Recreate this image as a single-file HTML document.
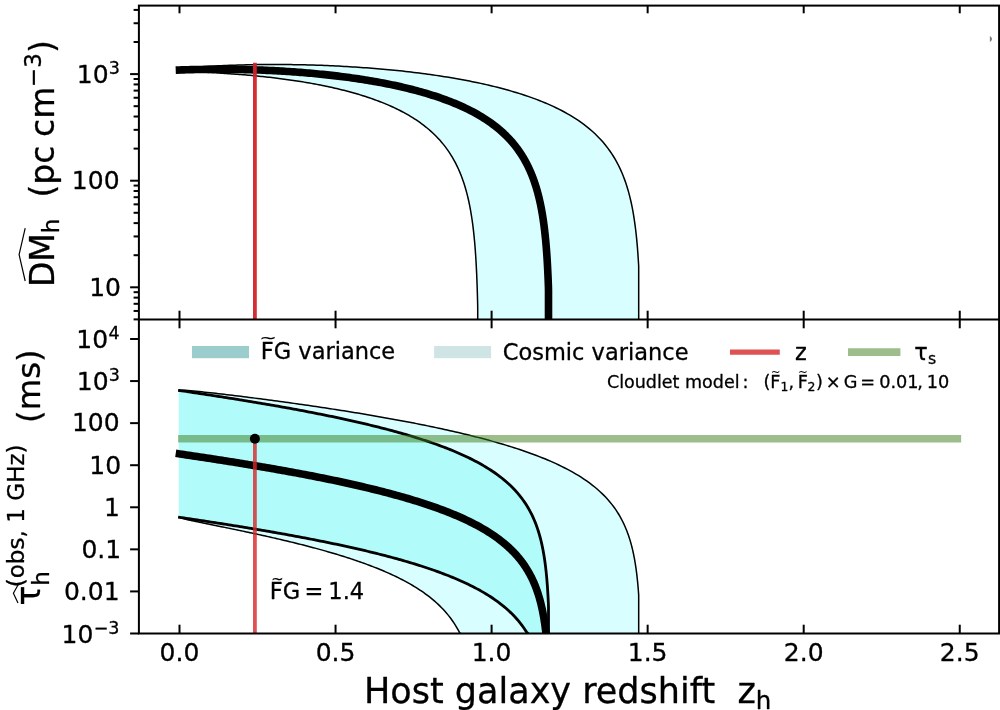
<!DOCTYPE html>
<html lang="en"><head><meta charset="utf-8"><title>Host galaxy redshift</title>
<style>html,body{margin:0;padding:0;background:#fff;}body{width:1000px;height:710px;overflow:hidden;position:relative;font-family:"DejaVu Sans","Liberation Sans",sans-serif;}</style></head>
<body>
<svg width="1000" height="710" viewBox="0 0 1000 710" style="display:block;position:absolute;left:0;top:0">
<rect width="1000" height="710" fill="#fff"/>
<defs><clipPath id="c1"><rect x="138.9" y="5.6" width="860.2" height="313.9"/></clipPath><clipPath id="c2"><rect x="138.9" y="319.5" width="860.2" height="314.0"/></clipPath></defs>
<g clip-path="url(#c1)">
<path d="M179.50,70.00 L182.29,69.04 L185.08,68.59 L187.87,68.23 L190.65,67.91 L193.44,67.63 L196.23,67.37 L199.02,67.13 L201.81,66.91 L204.60,66.71 L207.39,66.51 L210.18,66.33 L212.96,66.16 L215.75,66.00 L218.54,65.85 L221.33,65.71 L224.12,65.58 L226.91,65.45 L229.70,65.34 L232.49,65.23 L235.27,65.13 L238.06,65.04 L240.85,64.95 L243.64,64.88 L246.43,64.81 L249.22,64.74 L252.01,64.69 L254.80,64.64 L257.58,64.60 L260.37,64.56 L263.16,64.53 L265.95,64.51 L268.74,64.49 L271.53,64.48 L274.32,64.48 L277.11,64.48 L279.89,64.49 L282.68,64.51 L285.47,64.53 L288.26,64.55 L291.05,64.59 L293.84,64.63 L296.63,64.67 L299.42,64.73 L302.20,64.78 L304.99,64.85 L307.78,64.92 L310.57,65.00 L313.36,65.08 L316.15,65.17 L318.94,65.26 L321.73,65.36 L324.51,65.47 L327.30,65.58 L330.09,65.70 L332.88,65.83 L335.67,65.96 L338.46,66.10 L341.25,66.24 L344.03,66.39 L346.82,66.55 L349.61,66.71 L352.40,66.88 L355.19,67.06 L357.98,67.24 L360.77,67.43 L363.56,67.63 L366.34,67.83 L369.13,68.04 L371.92,68.26 L374.71,68.48 L377.50,68.72 L380.29,68.95 L383.08,69.20 L385.87,69.45 L388.65,69.71 L391.44,69.98 L394.23,70.25 L397.02,70.54 L399.81,70.83 L402.60,71.12 L405.39,71.43 L408.18,71.75 L410.96,72.07 L413.75,72.40 L416.54,72.74 L419.33,73.09 L422.12,73.45 L424.91,73.81 L427.70,74.19 L430.49,74.57 L433.27,74.97 L436.06,75.37 L438.85,75.79 L441.64,76.21 L444.43,76.65 L447.22,77.09 L450.01,77.55 L452.80,78.02 L455.58,78.50 L458.37,78.99 L461.16,79.49 L463.95,80.01 L466.74,80.54 L469.53,81.08 L472.32,81.64 L475.11,82.21 L477.89,82.79 L480.68,83.39 L483.47,84.00 L486.26,84.63 L489.05,85.28 L491.84,85.94 L494.63,86.62 L497.42,87.32 L500.20,88.03 L502.99,88.77 L505.78,89.52 L508.57,90.30 L511.36,91.10 L514.15,91.92 L516.94,92.76 L519.72,93.63 L522.51,94.52 L525.30,95.44 L528.09,96.39 L530.88,97.37 L533.67,98.37 L536.46,99.41 L539.25,100.49 L542.03,101.59 L544.82,102.74 L547.61,103.93 L550.40,105.16 L553.19,106.43 L555.98,107.75 L558.77,109.12 L561.56,110.54 L564.34,112.03 L567.13,113.57 L569.92,115.18 L572.71,116.87 L575.50,118.63 L578.29,120.47 L581.08,122.41 L583.87,124.44 L586.65,126.59 L589.44,128.86 L592.23,131.27 L595.02,133.82 L597.91,136.66 L600.63,139.50 L603.17,142.36 L605.55,145.22 L607.79,148.09 L609.88,150.97 L611.84,153.86 L613.68,156.76 L615.41,159.66 L617.02,162.57 L618.54,165.48 L619.96,168.40 L621.29,171.33 L622.54,174.26 L623.70,177.19 L624.80,180.13 L625.83,183.07 L626.79,186.01 L627.69,188.96 L628.54,191.91 L629.33,194.87 L630.08,197.83 L630.77,200.79 L631.43,203.75 L632.04,206.71 L632.61,209.68 L633.15,212.65 L633.65,215.62 L634.12,218.59 L634.57,221.56 L634.98,224.54 L635.37,227.51 L635.74,230.49 L636.08,233.47 L636.40,236.45 L636.70,239.43 L636.98,242.41 L637.24,245.39 L637.49,248.38 L637.72,251.36 L637.94,254.35 L638.14,257.33 L638.34,260.32 L638.51,263.31 L638.68,266.30 L638.69,269.28 L638.69,272.27 L638.69,275.26 L638.69,278.25 L638.69,281.24 L638.69,284.23 L638.69,287.23 L638.69,290.22 L638.69,293.21 L638.69,296.20 L638.69,299.19 L638.69,302.19 L638.69,305.18 L638.69,308.17 L638.69,311.17 L638.69,314.16 L638.69,317.15 L638.69,319.50 L477.71,319.50 L477.71,317.50 L477.71,314.51 L477.71,311.52 L477.71,308.53 L477.68,305.53 L477.61,302.54 L477.53,299.55 L477.46,296.56 L477.37,293.57 L477.28,290.58 L477.19,287.59 L477.09,284.60 L476.98,281.61 L476.86,278.62 L476.74,275.63 L476.60,272.64 L476.46,269.65 L476.31,266.67 L476.15,263.68 L475.98,260.69 L475.80,257.71 L475.61,254.73 L475.40,251.74 L475.18,248.76 L474.94,245.78 L474.69,242.80 L474.42,239.82 L474.13,236.84 L473.83,233.87 L473.50,230.89 L473.15,227.92 L472.78,224.95 L472.38,221.98 L471.96,219.01 L471.51,216.04 L471.03,213.08 L470.51,210.12 L469.96,207.16 L469.38,204.20 L468.75,201.24 L468.09,198.29 L467.38,195.34 L466.62,192.40 L465.81,189.46 L464.95,186.52 L464.03,183.58 L463.05,180.66 L462.00,177.73 L460.88,174.81 L459.69,171.90 L458.42,168.99 L457.06,166.08 L455.61,163.19 L454.07,160.30 L452.42,157.42 L450.66,154.54 L448.79,151.68 L446.98,149.09 L445.17,146.65 L443.37,144.35 L441.56,142.17 L439.75,140.10 L437.95,138.14 L436.14,136.26 L434.33,134.46 L432.52,132.75 L430.72,131.10 L428.91,129.53 L427.10,128.01 L425.29,126.55 L423.49,125.14 L421.68,123.79 L419.87,122.48 L418.06,121.21 L416.26,119.99 L414.45,118.81 L412.64,117.66 L410.84,116.55 L409.03,115.47 L407.22,114.43 L405.41,113.41 L403.61,112.42 L401.80,111.46 L399.99,110.53 L398.18,109.62 L396.38,108.74 L394.57,107.88 L392.76,107.04 L390.96,106.22 L389.15,105.42 L387.34,104.64 L385.53,103.88 L383.73,103.14 L381.92,102.41 L380.11,101.70 L378.30,101.01 L376.50,100.34 L374.69,99.67 L372.88,99.03 L371.07,98.40 L369.27,97.78 L367.46,97.17 L365.65,96.58 L363.85,96.00 L362.04,95.43 L360.23,94.88 L358.42,94.33 L356.62,93.80 L354.81,93.27 L353.00,92.76 L351.19,92.26 L349.39,91.77 L347.58,91.29 L345.77,90.81 L343.97,90.35 L342.16,89.90 L340.35,89.45 L338.54,89.01 L336.74,88.59 L334.93,88.17 L333.12,87.75 L331.31,87.35 L329.51,86.95 L327.70,86.56 L325.89,86.18 L324.08,85.81 L322.28,85.44 L320.47,85.08 L318.66,84.73 L316.86,84.38 L315.05,84.04 L313.24,83.71 L311.43,83.38 L309.63,83.06 L307.82,82.74 L306.01,82.43 L304.20,82.13 L302.40,81.83 L300.59,81.54 L298.78,81.25 L296.98,80.97 L295.17,80.70 L293.36,80.43 L291.55,80.16 L289.75,79.90 L287.94,79.65 L286.13,79.40 L284.32,79.15 L282.52,78.91 L280.71,78.68 L278.90,78.45 L277.09,78.22 L275.29,78.00 L273.48,77.78 L271.67,77.57 L269.87,77.36 L268.06,77.16 L266.25,76.96 L264.44,76.76 L262.64,76.57 L260.83,76.38 L259.02,76.20 L257.21,76.02 L255.41,75.84 L253.60,75.67 L251.79,75.50 L249.99,75.34 L248.18,75.18 L246.37,75.02 L244.56,74.87 L242.76,74.72 L240.95,74.57 L239.14,74.43 L237.33,74.29 L235.53,74.15 L233.72,74.02 L231.91,73.89 L230.10,73.76 L228.30,73.64 L226.49,73.52 L224.68,73.40 L222.88,73.28 L221.07,73.17 L219.26,73.06 L217.45,72.95 L215.65,72.84 L213.84,72.74 L212.03,72.63 L210.22,72.53 L208.42,72.43 L206.61,72.34 L204.80,72.24 L203.00,72.14 L201.19,72.05 L199.38,71.95 L197.57,71.85 L195.77,71.76 L193.96,71.66 L192.15,71.55 L190.34,71.44 L188.54,71.33 L186.73,71.20 L184.92,71.05 L183.11,70.88 L181.31,70.64 L179.50,70.00 Z" fill="#d9feff" stroke="#d9feff" stroke-width="1.4"/>
<path d="M179.50,70.00 L182.29,69.04 L185.08,68.59 L187.87,68.23 L190.65,67.91 L193.44,67.63 L196.23,67.37 L199.02,67.13 L201.81,66.91 L204.60,66.71 L207.39,66.51 L210.18,66.33 L212.96,66.16 L215.75,66.00 L218.54,65.85 L221.33,65.71 L224.12,65.58 L226.91,65.45 L229.70,65.34 L232.49,65.23 L235.27,65.13 L238.06,65.04 L240.85,64.95 L243.64,64.88 L246.43,64.81 L249.22,64.74 L252.01,64.69 L254.80,64.64 L257.58,64.60 L260.37,64.56 L263.16,64.53 L265.95,64.51 L268.74,64.49 L271.53,64.48 L274.32,64.48 L277.11,64.48 L279.89,64.49 L282.68,64.51 L285.47,64.53 L288.26,64.55 L291.05,64.59 L293.84,64.63 L296.63,64.67 L299.42,64.73 L302.20,64.78 L304.99,64.85 L307.78,64.92 L310.57,65.00 L313.36,65.08 L316.15,65.17 L318.94,65.26 L321.73,65.36 L324.51,65.47 L327.30,65.58 L330.09,65.70 L332.88,65.83 L335.67,65.96 L338.46,66.10 L341.25,66.24 L344.03,66.39 L346.82,66.55 L349.61,66.71 L352.40,66.88 L355.19,67.06 L357.98,67.24 L360.77,67.43 L363.56,67.63 L366.34,67.83 L369.13,68.04 L371.92,68.26 L374.71,68.48 L377.50,68.72 L380.29,68.95 L383.08,69.20 L385.87,69.45 L388.65,69.71 L391.44,69.98 L394.23,70.25 L397.02,70.54 L399.81,70.83 L402.60,71.12 L405.39,71.43 L408.18,71.75 L410.96,72.07 L413.75,72.40 L416.54,72.74 L419.33,73.09 L422.12,73.45 L424.91,73.81 L427.70,74.19 L430.49,74.57 L433.27,74.97 L436.06,75.37 L438.85,75.79 L441.64,76.21 L444.43,76.65 L447.22,77.09 L450.01,77.55 L452.80,78.02 L455.58,78.50 L458.37,78.99 L461.16,79.49 L463.95,80.01 L466.74,80.54 L469.53,81.08 L472.32,81.64 L475.11,82.21 L477.89,82.79 L480.68,83.39 L483.47,84.00 L486.26,84.63 L489.05,85.28 L491.84,85.94 L494.63,86.62 L497.42,87.32 L500.20,88.03 L502.99,88.77 L505.78,89.52 L508.57,90.30 L511.36,91.10 L514.15,91.92 L516.94,92.76 L519.72,93.63 L522.51,94.52 L525.30,95.44 L528.09,96.39 L530.88,97.37 L533.67,98.37 L536.46,99.41 L539.25,100.49 L542.03,101.59 L544.82,102.74 L547.61,103.93 L550.40,105.16 L553.19,106.43 L555.98,107.75 L558.77,109.12 L561.56,110.54 L564.34,112.03 L567.13,113.57 L569.92,115.18 L572.71,116.87 L575.50,118.63 L578.29,120.47 L581.08,122.41 L583.87,124.44 L586.65,126.59 L589.44,128.86 L592.23,131.27 L595.02,133.82 L597.91,136.66 L600.63,139.50 L603.17,142.36 L605.55,145.22 L607.79,148.09 L609.88,150.97 L611.84,153.86 L613.68,156.76 L615.41,159.66 L617.02,162.57 L618.54,165.48 L619.96,168.40 L621.29,171.33 L622.54,174.26 L623.70,177.19 L624.80,180.13 L625.83,183.07 L626.79,186.01 L627.69,188.96 L628.54,191.91 L629.33,194.87 L630.08,197.83 L630.77,200.79 L631.43,203.75 L632.04,206.71 L632.61,209.68 L633.15,212.65 L633.65,215.62 L634.12,218.59 L634.57,221.56 L634.98,224.54 L635.37,227.51 L635.74,230.49 L636.08,233.47 L636.40,236.45 L636.70,239.43 L636.98,242.41 L637.24,245.39 L637.49,248.38 L637.72,251.36 L637.94,254.35 L638.14,257.33 L638.34,260.32 L638.51,263.31 L638.68,266.30 L638.69,269.28 L638.69,272.27 L638.69,275.26 L638.69,278.25 L638.69,281.24 L638.69,284.23 L638.69,287.23 L638.69,290.22 L638.69,293.21 L638.69,296.20 L638.69,299.19 L638.69,302.19 L638.69,305.18 L638.69,308.17 L638.69,311.17 L638.69,314.16 L638.69,317.15 L638.69,319.50" fill="none" stroke="#000" stroke-width="1.5" stroke-linecap="square"/>
<path d="M179.50,70.00 L181.31,70.64 L183.11,70.88 L184.92,71.05 L186.73,71.20 L188.54,71.33 L190.34,71.44 L192.15,71.55 L193.96,71.66 L195.77,71.76 L197.57,71.85 L199.38,71.95 L201.19,72.05 L203.00,72.14 L204.80,72.24 L206.61,72.34 L208.42,72.43 L210.22,72.53 L212.03,72.63 L213.84,72.74 L215.65,72.84 L217.45,72.95 L219.26,73.06 L221.07,73.17 L222.88,73.28 L224.68,73.40 L226.49,73.52 L228.30,73.64 L230.10,73.76 L231.91,73.89 L233.72,74.02 L235.53,74.15 L237.33,74.29 L239.14,74.43 L240.95,74.57 L242.76,74.72 L244.56,74.87 L246.37,75.02 L248.18,75.18 L249.99,75.34 L251.79,75.50 L253.60,75.67 L255.41,75.84 L257.21,76.02 L259.02,76.20 L260.83,76.38 L262.64,76.57 L264.44,76.76 L266.25,76.96 L268.06,77.16 L269.87,77.36 L271.67,77.57 L273.48,77.78 L275.29,78.00 L277.09,78.22 L278.90,78.45 L280.71,78.68 L282.52,78.91 L284.32,79.15 L286.13,79.40 L287.94,79.65 L289.75,79.90 L291.55,80.16 L293.36,80.43 L295.17,80.70 L296.98,80.97 L298.78,81.25 L300.59,81.54 L302.40,81.83 L304.20,82.13 L306.01,82.43 L307.82,82.74 L309.63,83.06 L311.43,83.38 L313.24,83.71 L315.05,84.04 L316.86,84.38 L318.66,84.73 L320.47,85.08 L322.28,85.44 L324.08,85.81 L325.89,86.18 L327.70,86.56 L329.51,86.95 L331.31,87.35 L333.12,87.75 L334.93,88.17 L336.74,88.59 L338.54,89.01 L340.35,89.45 L342.16,89.90 L343.97,90.35 L345.77,90.81 L347.58,91.29 L349.39,91.77 L351.19,92.26 L353.00,92.76 L354.81,93.27 L356.62,93.80 L358.42,94.33 L360.23,94.88 L362.04,95.43 L363.85,96.00 L365.65,96.58 L367.46,97.17 L369.27,97.78 L371.07,98.40 L372.88,99.03 L374.69,99.67 L376.50,100.34 L378.30,101.01 L380.11,101.70 L381.92,102.41 L383.73,103.14 L385.53,103.88 L387.34,104.64 L389.15,105.42 L390.96,106.22 L392.76,107.04 L394.57,107.88 L396.38,108.74 L398.18,109.62 L399.99,110.53 L401.80,111.46 L403.61,112.42 L405.41,113.41 L407.22,114.43 L409.03,115.47 L410.84,116.55 L412.64,117.66 L414.45,118.81 L416.26,119.99 L418.06,121.21 L419.87,122.48 L421.68,123.79 L423.49,125.14 L425.29,126.55 L427.10,128.01 L428.91,129.53 L430.72,131.10 L432.52,132.75 L434.33,134.46 L436.14,136.26 L437.95,138.14 L439.75,140.10 L441.56,142.17 L443.37,144.35 L445.17,146.65 L446.98,149.09 L448.79,151.68 L450.66,154.54 L452.42,157.42 L454.07,160.30 L455.61,163.19 L457.06,166.08 L458.42,168.99 L459.69,171.90 L460.88,174.81 L462.00,177.73 L463.05,180.66 L464.03,183.58 L464.95,186.52 L465.81,189.46 L466.62,192.40 L467.38,195.34 L468.09,198.29 L468.75,201.24 L469.38,204.20 L469.96,207.16 L470.51,210.12 L471.03,213.08 L471.51,216.04 L471.96,219.01 L472.38,221.98 L472.78,224.95 L473.15,227.92 L473.50,230.89 L473.83,233.87 L474.13,236.84 L474.42,239.82 L474.69,242.80 L474.94,245.78 L475.18,248.76 L475.40,251.74 L475.61,254.73 L475.80,257.71 L475.98,260.69 L476.15,263.68 L476.31,266.67 L476.46,269.65 L476.60,272.64 L476.74,275.63 L476.86,278.62 L476.98,281.61 L477.09,284.60 L477.19,287.59 L477.28,290.58 L477.37,293.57 L477.46,296.56 L477.53,299.55 L477.61,302.54 L477.68,305.53 L477.71,308.53 L477.71,311.52 L477.71,314.51 L477.71,317.50 L477.71,319.50" fill="none" stroke="#000" stroke-width="1.5" stroke-linecap="square"/>
<path d="M179.50,70.00 L181.74,69.92 L183.98,69.85 L186.21,69.78 L188.45,69.71 L190.69,69.65 L192.93,69.60 L195.17,69.55 L197.40,69.50 L199.64,69.46 L201.88,69.43 L204.12,69.39 L206.35,69.37 L208.59,69.34 L210.83,69.32 L213.07,69.31 L215.31,69.30 L217.54,69.30 L219.78,69.29 L222.02,69.30 L224.26,69.31 L226.50,69.32 L228.73,69.34 L230.97,69.36 L233.21,69.39 L235.45,69.42 L237.68,69.45 L239.92,69.50 L242.16,69.54 L244.40,69.59 L246.64,69.64 L248.87,69.70 L251.11,69.77 L253.35,69.83 L255.59,69.91 L257.83,69.98 L260.06,70.07 L262.30,70.15 L264.54,70.24 L266.78,70.34 L269.02,70.44 L271.25,70.55 L273.49,70.66 L275.73,70.77 L277.97,70.89 L280.20,71.02 L282.44,71.15 L284.68,71.29 L286.92,71.43 L289.16,71.57 L291.39,71.72 L293.63,71.88 L295.87,72.04 L298.11,72.20 L300.35,72.37 L302.58,72.55 L304.82,72.73 L307.06,72.92 L309.30,73.11 L311.54,73.31 L313.77,73.51 L316.01,73.72 L318.25,73.94 L320.49,74.16 L322.72,74.39 L324.96,74.62 L327.20,74.86 L329.44,75.10 L331.68,75.35 L333.91,75.61 L336.15,75.87 L338.39,76.14 L340.63,76.42 L342.87,76.70 L345.10,76.99 L347.34,77.29 L349.58,77.59 L351.82,77.90 L354.05,78.22 L356.29,78.55 L358.53,78.88 L360.77,79.22 L363.01,79.56 L365.24,79.92 L367.48,80.28 L369.72,80.65 L371.96,81.03 L374.20,81.42 L376.43,81.82 L378.67,82.22 L380.91,82.64 L383.15,83.06 L385.39,83.50 L387.62,83.94 L389.86,84.39 L392.10,84.85 L394.34,85.33 L396.57,85.81 L398.81,86.31 L401.05,86.81 L403.29,87.33 L405.53,87.86 L407.76,88.40 L410.00,88.95 L412.24,89.52 L414.48,90.10 L416.72,90.69 L418.95,91.30 L421.19,91.92 L423.43,92.56 L425.67,93.21 L427.90,93.88 L430.14,94.56 L432.38,95.26 L434.62,95.98 L436.86,96.72 L439.09,97.47 L441.33,98.25 L443.57,99.05 L445.81,99.86 L448.05,100.70 L450.28,101.57 L452.52,102.45 L454.76,103.37 L457.00,104.31 L459.24,105.27 L461.47,106.27 L463.71,107.29 L465.95,108.35 L468.19,109.44 L470.42,110.57 L472.66,111.73 L474.90,112.94 L477.14,114.18 L479.38,115.47 L481.61,116.81 L483.85,118.20 L486.09,119.64 L488.33,121.14 L490.57,122.70 L492.80,124.32 L495.04,126.02 L497.28,127.80 L499.52,129.66 L501.76,131.61 L503.99,133.66 L506.23,135.82 L508.47,138.11 L510.71,140.53 L512.94,143.10 L515.27,145.95 L517.44,148.81 L519.48,151.67 L521.40,154.55 L523.19,157.43 L524.87,160.32 L526.44,163.22 L527.92,166.13 L529.30,169.04 L530.60,171.95 L531.82,174.88 L532.96,177.80 L534.02,180.73 L535.02,183.67 L535.96,186.61 L536.84,189.55 L537.67,192.50 L538.44,195.45 L539.16,198.40 L539.84,201.35 L540.48,204.31 L541.08,207.27 L541.63,210.23 L542.16,213.20 L542.65,216.17 L543.11,219.14 L543.54,222.11 L543.95,225.08 L544.32,228.05 L544.68,231.03 L545.01,234.00 L545.33,236.98 L545.62,239.96 L545.89,242.94 L546.15,245.92 L546.39,248.91 L546.62,251.89 L546.83,254.87 L547.03,257.86 L547.21,260.84 L547.39,263.83 L547.55,266.82 L547.70,269.80 L547.85,272.79 L547.98,275.78 L548.11,278.77 L548.23,281.76 L548.34,284.75 L548.44,287.74 L548.50,290.73 L548.50,293.72 L548.50,296.71 L548.50,299.71 L548.50,302.70 L548.50,305.69 L548.50,308.68 L548.50,311.68 L548.50,314.67 L548.50,317.66 L548.50,319.50" fill="none" stroke="#000" stroke-width="7.6" stroke-linejoin="round" stroke-linecap="square"/>
<line x1="254.90" x2="254.90" y1="62.7" y2="319.5" stroke="#d1222b" stroke-opacity="0.95" stroke-width="3.8"/>
</g>
<g clip-path="url(#c2)">
<path d="M179.50,390.50 L182.29,390.23 L185.08,390.36 L187.87,390.55 L190.65,390.78 L193.44,391.03 L196.23,391.29 L199.02,391.56 L201.81,391.85 L204.60,392.14 L207.39,392.44 L210.18,392.74 L212.96,393.05 L215.75,393.37 L218.54,393.68 L221.33,394.01 L224.12,394.33 L226.91,394.66 L229.70,394.99 L232.49,395.33 L235.27,395.67 L238.06,396.01 L240.85,396.35 L243.64,396.70 L246.43,397.05 L249.22,397.40 L252.01,397.76 L254.80,398.12 L257.58,398.47 L260.37,398.84 L263.16,399.20 L265.95,399.57 L268.74,399.94 L271.53,400.31 L274.32,400.68 L277.11,401.06 L279.89,401.44 L282.68,401.82 L285.47,402.20 L288.26,402.59 L291.05,402.98 L293.84,403.37 L296.63,403.76 L299.42,404.16 L302.20,404.56 L304.99,404.96 L307.78,405.36 L310.57,405.77 L313.36,406.18 L316.15,406.59 L318.94,407.00 L321.73,407.42 L324.51,407.84 L327.30,408.26 L330.09,408.69 L332.88,409.12 L335.67,409.55 L338.46,409.98 L341.25,410.42 L344.03,410.86 L346.82,411.31 L349.61,411.75 L352.40,412.20 L355.19,412.66 L357.98,413.11 L360.77,413.58 L363.56,414.04 L366.34,414.51 L369.13,414.98 L371.92,415.45 L374.71,415.93 L377.50,416.41 L380.29,416.90 L383.08,417.39 L385.87,417.89 L388.65,418.39 L391.44,418.89 L394.23,419.40 L397.02,419.91 L399.81,420.43 L402.60,420.95 L405.39,421.48 L408.18,422.01 L410.96,422.54 L413.75,423.09 L416.54,423.63 L419.33,424.19 L422.12,424.75 L424.91,425.31 L427.70,425.88 L430.49,426.46 L433.27,427.04 L436.06,427.63 L438.85,428.22 L441.64,428.82 L444.43,429.43 L447.22,430.05 L450.01,430.67 L452.80,431.31 L455.58,431.94 L458.37,432.59 L461.16,433.25 L463.95,433.91 L466.74,434.59 L469.53,435.27 L472.32,435.96 L475.11,436.66 L477.89,437.37 L480.68,438.09 L483.47,438.83 L486.26,439.57 L489.05,440.33 L491.84,441.10 L494.63,441.88 L497.42,442.67 L500.20,443.48 L502.99,444.30 L505.78,445.13 L508.57,445.99 L511.36,446.85 L514.15,447.74 L516.94,448.64 L519.72,449.56 L522.51,450.50 L525.30,451.46 L528.09,452.44 L530.88,453.44 L533.67,454.46 L536.46,455.51 L539.25,456.59 L542.03,457.69 L544.82,458.82 L547.61,459.98 L550.40,461.18 L553.19,462.40 L555.98,463.67 L558.77,464.97 L561.56,466.32 L564.34,467.71 L567.13,469.15 L569.92,470.64 L572.71,472.18 L575.50,473.79 L578.29,475.46 L581.08,477.20 L583.87,479.02 L586.65,480.93 L589.44,482.94 L592.23,485.05 L595.02,487.27 L597.91,489.73 L600.63,492.18 L603.17,494.62 L605.55,497.06 L607.79,499.49 L609.88,501.92 L611.84,504.34 L613.68,506.76 L615.41,509.18 L617.02,511.59 L618.54,514.01 L619.96,516.41 L621.29,518.82 L622.54,521.22 L623.70,523.62 L624.80,526.02 L625.83,528.42 L626.79,530.81 L627.69,533.20 L628.54,535.59 L629.33,537.98 L630.08,540.37 L630.77,542.76 L631.43,545.14 L632.04,547.52 L632.61,549.91 L633.15,552.29 L633.65,554.67 L634.12,557.05 L634.57,559.43 L634.98,561.80 L635.37,564.18 L635.74,566.56 L636.08,568.93 L636.40,571.31 L636.70,573.68 L636.98,576.06 L637.24,578.43 L637.49,580.80 L637.72,583.17 L637.94,585.55 L638.14,587.92 L638.34,590.29 L638.51,592.66 L638.68,595.03 L638.69,597.40 L638.69,599.77 L638.69,602.14 L638.69,604.51 L638.69,606.88 L638.69,609.24 L638.69,611.61 L638.69,613.98 L638.69,616.35 L638.69,618.72 L638.69,621.09 L638.69,623.45 L638.69,625.82 L638.69,628.19 L638.69,630.56 L638.69,632.92 L638.69,633.50 L460.88,633.50 L459.69,632.84 L458.42,630.43 L457.06,628.01 L455.61,625.59 L454.07,623.17 L452.42,620.74 L450.66,618.31 L448.79,615.87 L446.98,613.65 L445.17,611.56 L443.37,609.57 L441.56,607.68 L439.75,605.87 L437.95,604.15 L436.14,602.49 L434.33,600.90 L432.52,599.37 L430.72,597.90 L428.91,596.47 L427.10,595.10 L425.29,593.77 L423.49,592.48 L421.68,591.24 L419.87,590.02 L418.06,588.85 L416.26,587.70 L414.45,586.59 L412.64,585.50 L410.84,584.44 L409.03,583.41 L407.22,582.40 L405.41,581.41 L403.61,580.45 L401.80,579.51 L399.99,578.58 L398.18,577.68 L396.38,576.79 L394.57,575.93 L392.76,575.08 L390.96,574.24 L389.15,573.42 L387.34,572.62 L385.53,571.83 L383.73,571.05 L381.92,570.28 L380.11,569.53 L378.30,568.79 L376.50,568.06 L374.69,567.35 L372.88,566.64 L371.07,565.95 L369.27,565.26 L367.46,564.59 L365.65,563.92 L363.85,563.26 L362.04,562.61 L360.23,561.97 L358.42,561.34 L356.62,560.72 L354.81,560.10 L353.00,559.50 L351.19,558.90 L349.39,558.30 L347.58,557.72 L345.77,557.14 L343.97,556.56 L342.16,556.00 L340.35,555.44 L338.54,554.88 L336.74,554.33 L334.93,553.79 L333.12,553.25 L331.31,552.72 L329.51,552.19 L327.70,551.67 L325.89,551.15 L324.08,550.64 L322.28,550.14 L320.47,549.63 L318.66,549.13 L316.86,548.64 L315.05,548.15 L313.24,547.67 L311.43,547.18 L309.63,546.71 L307.82,546.23 L306.01,545.76 L304.20,545.30 L302.40,544.84 L300.59,544.38 L298.78,543.92 L296.98,543.47 L295.17,543.02 L293.36,542.58 L291.55,542.13 L289.75,541.70 L287.94,541.26 L286.13,540.83 L284.32,540.40 L282.52,539.97 L280.71,539.54 L278.90,539.12 L277.09,538.70 L275.29,538.28 L273.48,537.87 L271.67,537.46 L269.87,537.05 L268.06,536.64 L266.25,536.23 L264.44,535.83 L262.64,535.43 L260.83,535.03 L259.02,534.63 L257.21,534.24 L255.41,533.85 L253.60,533.45 L251.79,533.06 L249.99,532.68 L248.18,532.29 L246.37,531.91 L244.56,531.52 L242.76,531.14 L240.95,530.76 L239.14,530.38 L237.33,530.00 L235.53,529.63 L233.72,529.25 L231.91,528.88 L230.10,528.51 L228.30,528.13 L226.49,527.76 L224.68,527.39 L222.88,527.02 L221.07,526.65 L219.26,526.28 L217.45,525.92 L215.65,525.55 L213.84,525.18 L212.03,524.81 L210.22,524.45 L208.42,524.08 L206.61,523.71 L204.80,523.34 L203.00,522.97 L201.19,522.60 L199.38,522.22 L197.57,521.85 L195.77,521.47 L193.96,521.09 L192.15,520.70 L190.34,520.31 L188.54,519.91 L186.73,519.50 L184.92,519.07 L183.11,518.62 L181.31,518.12 L179.50,517.30 Z" fill="#d9feff" stroke="#d9feff" stroke-width="1.4"/>
<path d="M179.50,390.50 L181.74,390.83 L183.98,391.16 L186.21,391.49 L188.45,391.83 L190.69,392.16 L192.93,392.49 L195.17,392.83 L197.40,393.17 L199.64,393.50 L201.88,393.84 L204.12,394.18 L206.35,394.52 L208.59,394.87 L210.83,395.21 L213.07,395.55 L215.31,395.90 L217.54,396.25 L219.78,396.60 L222.02,396.95 L224.26,397.30 L226.50,397.65 L228.73,398.01 L230.97,398.36 L233.21,398.72 L235.45,399.08 L237.68,399.44 L239.92,399.80 L242.16,400.17 L244.40,400.53 L246.64,400.90 L248.87,401.27 L251.11,401.64 L253.35,402.01 L255.59,402.39 L257.83,402.76 L260.06,403.14 L262.30,403.52 L264.54,403.90 L266.78,404.29 L269.02,404.67 L271.25,405.06 L273.49,405.45 L275.73,405.84 L277.97,406.24 L280.20,406.63 L282.44,407.03 L284.68,407.43 L286.92,407.84 L289.16,408.24 L291.39,408.65 L293.63,409.06 L295.87,409.48 L298.11,409.89 L300.35,410.31 L302.58,410.74 L304.82,411.16 L307.06,411.59 L309.30,412.02 L311.54,412.45 L313.77,412.89 L316.01,413.33 L318.25,413.77 L320.49,414.22 L322.72,414.66 L324.96,415.12 L327.20,415.57 L329.44,416.03 L331.68,416.49 L333.91,416.96 L336.15,417.43 L338.39,417.91 L340.63,418.38 L342.87,418.87 L345.10,419.35 L347.34,419.84 L349.58,420.34 L351.82,420.83 L354.05,421.34 L356.29,421.85 L358.53,422.36 L360.77,422.88 L363.01,423.40 L365.24,423.93 L367.48,424.46 L369.72,425.00 L371.96,425.54 L374.20,426.09 L376.43,426.64 L378.67,427.20 L380.91,427.77 L383.15,428.34 L385.39,428.92 L387.62,429.51 L389.86,430.10 L392.10,430.70 L394.34,431.31 L396.57,431.92 L398.81,432.54 L401.05,433.17 L403.29,433.81 L405.53,434.46 L407.76,435.11 L410.00,435.77 L412.24,436.45 L414.48,437.13 L416.72,437.82 L418.95,438.52 L421.19,439.24 L423.43,439.96 L425.67,440.69 L427.90,441.44 L430.14,442.20 L432.38,442.97 L434.62,443.75 L436.86,444.55 L439.09,445.36 L441.33,446.19 L443.57,447.03 L445.81,447.89 L448.05,448.76 L450.28,449.66 L452.52,450.57 L454.76,451.50 L457.00,452.44 L459.24,453.42 L461.47,454.41 L463.71,455.42 L465.95,456.46 L468.19,457.53 L470.42,458.62 L472.66,459.74 L474.90,460.90 L477.14,462.08 L479.38,463.30 L481.61,464.56 L483.85,465.85 L486.09,467.19 L488.33,468.57 L490.57,470.00 L492.80,471.48 L495.04,473.01 L497.28,474.61 L499.52,476.27 L501.76,478.01 L503.99,479.82 L506.23,481.72 L508.47,483.71 L510.71,485.82 L512.94,488.04 L515.27,490.48 L517.44,492.92 L519.48,495.35 L521.40,497.78 L523.19,500.21 L524.87,502.63 L526.44,505.05 L527.92,507.47 L529.30,509.88 L530.60,512.29 L531.82,514.69 L532.96,517.10 L534.02,519.50 L535.02,521.90 L535.96,524.30 L536.84,526.69 L537.67,529.08 L538.44,531.47 L539.16,533.86 L539.84,536.25 L540.48,538.64 L541.08,541.02 L541.63,543.41 L542.16,545.79 L542.65,548.17 L543.11,550.55 L543.54,552.93 L543.95,555.31 L544.32,557.69 L544.68,560.07 L545.01,562.44 L545.33,564.82 L545.62,567.19 L545.89,569.57 L546.15,571.94 L546.39,574.32 L546.62,576.69 L546.83,579.06 L547.03,581.43 L547.21,583.80 L547.39,586.18 L547.55,588.55 L547.70,590.92 L547.85,593.29 L547.98,595.66 L548.11,598.03 L548.23,600.40 L548.34,602.77 L548.44,605.13 L548.50,607.50 L548.50,609.87 L548.50,612.24 L548.50,614.61 L548.50,616.98 L548.50,619.34 L548.50,621.71 L548.50,624.08 L548.50,626.45 L548.50,628.81 L548.50,631.18 L548.50,633.50 L527.92,633.50 L526.44,631.85 L524.87,629.43 L523.19,627.01 L521.40,624.58 L519.48,622.15 L517.44,619.72 L515.27,617.28 L512.94,614.83 L510.71,612.61 L508.47,610.51 L506.23,608.52 L503.99,606.62 L501.76,604.81 L499.52,603.07 L497.28,601.41 L495.04,599.81 L492.80,598.28 L490.57,596.79 L488.33,595.37 L486.09,593.99 L483.85,592.65 L481.61,591.35 L479.38,590.10 L477.14,588.88 L474.90,587.70 L472.66,586.54 L470.42,585.42 L468.19,584.33 L465.95,583.26 L463.71,582.22 L461.47,581.21 L459.24,580.21 L457.00,579.24 L454.76,578.29 L452.52,577.36 L450.28,576.45 L448.05,575.56 L445.81,574.69 L443.57,573.83 L441.33,572.99 L439.09,572.16 L436.86,571.35 L434.62,570.55 L432.38,569.77 L430.14,569.00 L427.90,568.24 L425.67,567.49 L423.43,566.76 L421.19,566.03 L418.95,565.32 L416.72,564.62 L414.48,563.93 L412.24,563.25 L410.00,562.57 L407.76,561.91 L405.53,561.26 L403.29,560.61 L401.05,559.97 L398.81,559.34 L396.57,558.72 L394.34,558.11 L392.10,557.50 L389.86,556.90 L387.62,556.31 L385.39,555.72 L383.15,555.14 L380.91,554.57 L378.67,554.00 L376.43,553.44 L374.20,552.89 L371.96,552.34 L369.72,551.80 L367.48,551.26 L365.24,550.72 L363.01,550.20 L360.77,549.67 L358.53,549.16 L356.29,548.64 L354.05,548.14 L351.82,547.63 L349.58,547.13 L347.34,546.64 L345.10,546.15 L342.87,545.66 L340.63,545.18 L338.39,544.70 L336.15,544.23 L333.91,543.76 L331.68,543.29 L329.44,542.83 L327.20,542.37 L324.96,541.92 L322.72,541.46 L320.49,541.01 L318.25,540.57 L316.01,540.13 L313.77,539.69 L311.54,539.25 L309.30,538.82 L307.06,538.39 L304.82,537.96 L302.58,537.53 L300.35,537.11 L298.11,536.69 L295.87,536.28 L293.63,535.86 L291.39,535.45 L289.16,535.04 L286.92,534.64 L284.68,534.23 L282.44,533.83 L280.20,533.43 L277.97,533.04 L275.73,532.64 L273.49,532.25 L271.25,531.86 L269.02,531.47 L266.78,531.08 L264.54,530.70 L262.30,530.32 L260.06,529.94 L257.83,529.56 L255.59,529.18 L253.35,528.81 L251.11,528.44 L248.87,528.07 L246.64,527.70 L244.40,527.33 L242.16,526.97 L239.92,526.60 L237.68,526.24 L235.45,525.88 L233.21,525.52 L230.97,525.16 L228.73,524.81 L226.50,524.45 L224.26,524.10 L222.02,523.75 L219.78,523.40 L217.54,523.05 L215.31,522.70 L213.07,522.35 L210.83,522.01 L208.59,521.67 L206.35,521.32 L204.12,520.98 L201.88,520.64 L199.64,520.30 L197.40,519.96 L195.17,519.63 L192.93,519.29 L190.69,518.96 L188.45,518.62 L186.21,518.29 L183.98,517.96 L181.74,517.63 L179.50,517.30 Z" fill="#b2fbfb" stroke="#b2fbfb" stroke-width="1.4"/>
<path d="M179.50,390.50 L182.29,390.23 L185.08,390.36 L187.87,390.55 L190.65,390.78 L193.44,391.03 L196.23,391.29 L199.02,391.56 L201.81,391.85 L204.60,392.14 L207.39,392.44 L210.18,392.74 L212.96,393.05 L215.75,393.37 L218.54,393.68 L221.33,394.01 L224.12,394.33 L226.91,394.66 L229.70,394.99 L232.49,395.33 L235.27,395.67 L238.06,396.01 L240.85,396.35 L243.64,396.70 L246.43,397.05 L249.22,397.40 L252.01,397.76 L254.80,398.12 L257.58,398.47 L260.37,398.84 L263.16,399.20 L265.95,399.57 L268.74,399.94 L271.53,400.31 L274.32,400.68 L277.11,401.06 L279.89,401.44 L282.68,401.82 L285.47,402.20 L288.26,402.59 L291.05,402.98 L293.84,403.37 L296.63,403.76 L299.42,404.16 L302.20,404.56 L304.99,404.96 L307.78,405.36 L310.57,405.77 L313.36,406.18 L316.15,406.59 L318.94,407.00 L321.73,407.42 L324.51,407.84 L327.30,408.26 L330.09,408.69 L332.88,409.12 L335.67,409.55 L338.46,409.98 L341.25,410.42 L344.03,410.86 L346.82,411.31 L349.61,411.75 L352.40,412.20 L355.19,412.66 L357.98,413.11 L360.77,413.58 L363.56,414.04 L366.34,414.51 L369.13,414.98 L371.92,415.45 L374.71,415.93 L377.50,416.41 L380.29,416.90 L383.08,417.39 L385.87,417.89 L388.65,418.39 L391.44,418.89 L394.23,419.40 L397.02,419.91 L399.81,420.43 L402.60,420.95 L405.39,421.48 L408.18,422.01 L410.96,422.54 L413.75,423.09 L416.54,423.63 L419.33,424.19 L422.12,424.75 L424.91,425.31 L427.70,425.88 L430.49,426.46 L433.27,427.04 L436.06,427.63 L438.85,428.22 L441.64,428.82 L444.43,429.43 L447.22,430.05 L450.01,430.67 L452.80,431.31 L455.58,431.94 L458.37,432.59 L461.16,433.25 L463.95,433.91 L466.74,434.59 L469.53,435.27 L472.32,435.96 L475.11,436.66 L477.89,437.37 L480.68,438.09 L483.47,438.83 L486.26,439.57 L489.05,440.33 L491.84,441.10 L494.63,441.88 L497.42,442.67 L500.20,443.48 L502.99,444.30 L505.78,445.13 L508.57,445.99 L511.36,446.85 L514.15,447.74 L516.94,448.64 L519.72,449.56 L522.51,450.50 L525.30,451.46 L528.09,452.44 L530.88,453.44 L533.67,454.46 L536.46,455.51 L539.25,456.59 L542.03,457.69 L544.82,458.82 L547.61,459.98 L550.40,461.18 L553.19,462.40 L555.98,463.67 L558.77,464.97 L561.56,466.32 L564.34,467.71 L567.13,469.15 L569.92,470.64 L572.71,472.18 L575.50,473.79 L578.29,475.46 L581.08,477.20 L583.87,479.02 L586.65,480.93 L589.44,482.94 L592.23,485.05 L595.02,487.27 L597.91,489.73 L600.63,492.18 L603.17,494.62 L605.55,497.06 L607.79,499.49 L609.88,501.92 L611.84,504.34 L613.68,506.76 L615.41,509.18 L617.02,511.59 L618.54,514.01 L619.96,516.41 L621.29,518.82 L622.54,521.22 L623.70,523.62 L624.80,526.02 L625.83,528.42 L626.79,530.81 L627.69,533.20 L628.54,535.59 L629.33,537.98 L630.08,540.37 L630.77,542.76 L631.43,545.14 L632.04,547.52 L632.61,549.91 L633.15,552.29 L633.65,554.67 L634.12,557.05 L634.57,559.43 L634.98,561.80 L635.37,564.18 L635.74,566.56 L636.08,568.93 L636.40,571.31 L636.70,573.68 L636.98,576.06 L637.24,578.43 L637.49,580.80 L637.72,583.17 L637.94,585.55 L638.14,587.92 L638.34,590.29 L638.51,592.66 L638.68,595.03 L638.69,597.40 L638.69,599.77 L638.69,602.14 L638.69,604.51 L638.69,606.88 L638.69,609.24 L638.69,611.61 L638.69,613.98 L638.69,616.35 L638.69,618.72 L638.69,621.09 L638.69,623.45 L638.69,625.82 L638.69,628.19 L638.69,630.56 L638.69,632.92 L638.69,633.50" fill="none" stroke="#000" stroke-width="1.5" stroke-linecap="square"/>
<path d="M179.50,517.30 L181.31,518.12 L183.11,518.62 L184.92,519.07 L186.73,519.50 L188.54,519.91 L190.34,520.31 L192.15,520.70 L193.96,521.09 L195.77,521.47 L197.57,521.85 L199.38,522.22 L201.19,522.60 L203.00,522.97 L204.80,523.34 L206.61,523.71 L208.42,524.08 L210.22,524.45 L212.03,524.81 L213.84,525.18 L215.65,525.55 L217.45,525.92 L219.26,526.28 L221.07,526.65 L222.88,527.02 L224.68,527.39 L226.49,527.76 L228.30,528.13 L230.10,528.51 L231.91,528.88 L233.72,529.25 L235.53,529.63 L237.33,530.00 L239.14,530.38 L240.95,530.76 L242.76,531.14 L244.56,531.52 L246.37,531.91 L248.18,532.29 L249.99,532.68 L251.79,533.06 L253.60,533.45 L255.41,533.85 L257.21,534.24 L259.02,534.63 L260.83,535.03 L262.64,535.43 L264.44,535.83 L266.25,536.23 L268.06,536.64 L269.87,537.05 L271.67,537.46 L273.48,537.87 L275.29,538.28 L277.09,538.70 L278.90,539.12 L280.71,539.54 L282.52,539.97 L284.32,540.40 L286.13,540.83 L287.94,541.26 L289.75,541.70 L291.55,542.13 L293.36,542.58 L295.17,543.02 L296.98,543.47 L298.78,543.92 L300.59,544.38 L302.40,544.84 L304.20,545.30 L306.01,545.76 L307.82,546.23 L309.63,546.71 L311.43,547.18 L313.24,547.67 L315.05,548.15 L316.86,548.64 L318.66,549.13 L320.47,549.63 L322.28,550.14 L324.08,550.64 L325.89,551.15 L327.70,551.67 L329.51,552.19 L331.31,552.72 L333.12,553.25 L334.93,553.79 L336.74,554.33 L338.54,554.88 L340.35,555.44 L342.16,556.00 L343.97,556.56 L345.77,557.14 L347.58,557.72 L349.39,558.30 L351.19,558.90 L353.00,559.50 L354.81,560.10 L356.62,560.72 L358.42,561.34 L360.23,561.97 L362.04,562.61 L363.85,563.26 L365.65,563.92 L367.46,564.59 L369.27,565.26 L371.07,565.95 L372.88,566.64 L374.69,567.35 L376.50,568.06 L378.30,568.79 L380.11,569.53 L381.92,570.28 L383.73,571.05 L385.53,571.83 L387.34,572.62 L389.15,573.42 L390.96,574.24 L392.76,575.08 L394.57,575.93 L396.38,576.79 L398.18,577.68 L399.99,578.58 L401.80,579.51 L403.61,580.45 L405.41,581.41 L407.22,582.40 L409.03,583.41 L410.84,584.44 L412.64,585.50 L414.45,586.59 L416.26,587.70 L418.06,588.85 L419.87,590.02 L421.68,591.24 L423.49,592.48 L425.29,593.77 L427.10,595.10 L428.91,596.47 L430.72,597.90 L432.52,599.37 L434.33,600.90 L436.14,602.49 L437.95,604.15 L439.75,605.87 L441.56,607.68 L443.37,609.57 L445.17,611.56 L446.98,613.65 L448.79,615.87 L450.66,618.31 L452.42,620.74 L454.07,623.17 L455.61,625.59 L457.06,628.01 L458.42,630.43 L459.69,632.84 L460.88,633.50" fill="none" stroke="#000" stroke-width="1.5" stroke-linecap="square"/>
<path d="M179.50,390.50 L181.74,390.83 L183.98,391.16 L186.21,391.49 L188.45,391.83 L190.69,392.16 L192.93,392.49 L195.17,392.83 L197.40,393.17 L199.64,393.50 L201.88,393.84 L204.12,394.18 L206.35,394.52 L208.59,394.87 L210.83,395.21 L213.07,395.55 L215.31,395.90 L217.54,396.25 L219.78,396.60 L222.02,396.95 L224.26,397.30 L226.50,397.65 L228.73,398.01 L230.97,398.36 L233.21,398.72 L235.45,399.08 L237.68,399.44 L239.92,399.80 L242.16,400.17 L244.40,400.53 L246.64,400.90 L248.87,401.27 L251.11,401.64 L253.35,402.01 L255.59,402.39 L257.83,402.76 L260.06,403.14 L262.30,403.52 L264.54,403.90 L266.78,404.29 L269.02,404.67 L271.25,405.06 L273.49,405.45 L275.73,405.84 L277.97,406.24 L280.20,406.63 L282.44,407.03 L284.68,407.43 L286.92,407.84 L289.16,408.24 L291.39,408.65 L293.63,409.06 L295.87,409.48 L298.11,409.89 L300.35,410.31 L302.58,410.74 L304.82,411.16 L307.06,411.59 L309.30,412.02 L311.54,412.45 L313.77,412.89 L316.01,413.33 L318.25,413.77 L320.49,414.22 L322.72,414.66 L324.96,415.12 L327.20,415.57 L329.44,416.03 L331.68,416.49 L333.91,416.96 L336.15,417.43 L338.39,417.91 L340.63,418.38 L342.87,418.87 L345.10,419.35 L347.34,419.84 L349.58,420.34 L351.82,420.83 L354.05,421.34 L356.29,421.85 L358.53,422.36 L360.77,422.88 L363.01,423.40 L365.24,423.93 L367.48,424.46 L369.72,425.00 L371.96,425.54 L374.20,426.09 L376.43,426.64 L378.67,427.20 L380.91,427.77 L383.15,428.34 L385.39,428.92 L387.62,429.51 L389.86,430.10 L392.10,430.70 L394.34,431.31 L396.57,431.92 L398.81,432.54 L401.05,433.17 L403.29,433.81 L405.53,434.46 L407.76,435.11 L410.00,435.77 L412.24,436.45 L414.48,437.13 L416.72,437.82 L418.95,438.52 L421.19,439.24 L423.43,439.96 L425.67,440.69 L427.90,441.44 L430.14,442.20 L432.38,442.97 L434.62,443.75 L436.86,444.55 L439.09,445.36 L441.33,446.19 L443.57,447.03 L445.81,447.89 L448.05,448.76 L450.28,449.66 L452.52,450.57 L454.76,451.50 L457.00,452.44 L459.24,453.42 L461.47,454.41 L463.71,455.42 L465.95,456.46 L468.19,457.53 L470.42,458.62 L472.66,459.74 L474.90,460.90 L477.14,462.08 L479.38,463.30 L481.61,464.56 L483.85,465.85 L486.09,467.19 L488.33,468.57 L490.57,470.00 L492.80,471.48 L495.04,473.01 L497.28,474.61 L499.52,476.27 L501.76,478.01 L503.99,479.82 L506.23,481.72 L508.47,483.71 L510.71,485.82 L512.94,488.04 L515.27,490.48 L517.44,492.92 L519.48,495.35 L521.40,497.78 L523.19,500.21 L524.87,502.63 L526.44,505.05 L527.92,507.47 L529.30,509.88 L530.60,512.29 L531.82,514.69 L532.96,517.10 L534.02,519.50 L535.02,521.90 L535.96,524.30 L536.84,526.69 L537.67,529.08 L538.44,531.47 L539.16,533.86 L539.84,536.25 L540.48,538.64 L541.08,541.02 L541.63,543.41 L542.16,545.79 L542.65,548.17 L543.11,550.55 L543.54,552.93 L543.95,555.31 L544.32,557.69 L544.68,560.07 L545.01,562.44 L545.33,564.82 L545.62,567.19 L545.89,569.57 L546.15,571.94 L546.39,574.32 L546.62,576.69 L546.83,579.06 L547.03,581.43 L547.21,583.80 L547.39,586.18 L547.55,588.55 L547.70,590.92 L547.85,593.29 L547.98,595.66 L548.11,598.03 L548.23,600.40 L548.34,602.77 L548.44,605.13 L548.50,607.50 L548.50,609.87 L548.50,612.24 L548.50,614.61 L548.50,616.98 L548.50,619.34 L548.50,621.71 L548.50,624.08 L548.50,626.45 L548.50,628.81 L548.50,631.18 L548.50,633.50" fill="none" stroke="#000" stroke-width="2.8" stroke-linecap="square"/>
<path d="M179.50,517.30 L181.74,517.63 L183.98,517.96 L186.21,518.29 L188.45,518.62 L190.69,518.96 L192.93,519.29 L195.17,519.63 L197.40,519.96 L199.64,520.30 L201.88,520.64 L204.12,520.98 L206.35,521.32 L208.59,521.67 L210.83,522.01 L213.07,522.35 L215.31,522.70 L217.54,523.05 L219.78,523.40 L222.02,523.75 L224.26,524.10 L226.50,524.45 L228.73,524.81 L230.97,525.16 L233.21,525.52 L235.45,525.88 L237.68,526.24 L239.92,526.60 L242.16,526.97 L244.40,527.33 L246.64,527.70 L248.87,528.07 L251.11,528.44 L253.35,528.81 L255.59,529.18 L257.83,529.56 L260.06,529.94 L262.30,530.32 L264.54,530.70 L266.78,531.08 L269.02,531.47 L271.25,531.86 L273.49,532.25 L275.73,532.64 L277.97,533.04 L280.20,533.43 L282.44,533.83 L284.68,534.23 L286.92,534.64 L289.16,535.04 L291.39,535.45 L293.63,535.86 L295.87,536.28 L298.11,536.69 L300.35,537.11 L302.58,537.53 L304.82,537.96 L307.06,538.39 L309.30,538.82 L311.54,539.25 L313.77,539.69 L316.01,540.13 L318.25,540.57 L320.49,541.01 L322.72,541.46 L324.96,541.92 L327.20,542.37 L329.44,542.83 L331.68,543.29 L333.91,543.76 L336.15,544.23 L338.39,544.70 L340.63,545.18 L342.87,545.66 L345.10,546.15 L347.34,546.64 L349.58,547.13 L351.82,547.63 L354.05,548.14 L356.29,548.64 L358.53,549.16 L360.77,549.67 L363.01,550.20 L365.24,550.72 L367.48,551.26 L369.72,551.80 L371.96,552.34 L374.20,552.89 L376.43,553.44 L378.67,554.00 L380.91,554.57 L383.15,555.14 L385.39,555.72 L387.62,556.31 L389.86,556.90 L392.10,557.50 L394.34,558.11 L396.57,558.72 L398.81,559.34 L401.05,559.97 L403.29,560.61 L405.53,561.26 L407.76,561.91 L410.00,562.57 L412.24,563.25 L414.48,563.93 L416.72,564.62 L418.95,565.32 L421.19,566.03 L423.43,566.76 L425.67,567.49 L427.90,568.24 L430.14,569.00 L432.38,569.77 L434.62,570.55 L436.86,571.35 L439.09,572.16 L441.33,572.99 L443.57,573.83 L445.81,574.69 L448.05,575.56 L450.28,576.45 L452.52,577.36 L454.76,578.29 L457.00,579.24 L459.24,580.21 L461.47,581.21 L463.71,582.22 L465.95,583.26 L468.19,584.33 L470.42,585.42 L472.66,586.54 L474.90,587.70 L477.14,588.88 L479.38,590.10 L481.61,591.35 L483.85,592.65 L486.09,593.99 L488.33,595.37 L490.57,596.79 L492.80,598.28 L495.04,599.81 L497.28,601.41 L499.52,603.07 L501.76,604.81 L503.99,606.62 L506.23,608.52 L508.47,610.51 L510.71,612.61 L512.94,614.83 L515.27,617.28 L517.44,619.72 L519.48,622.15 L521.40,624.58 L523.19,627.01 L524.87,629.43 L526.44,631.85 L527.92,633.50" fill="none" stroke="#000" stroke-width="2.8" stroke-linecap="square"/>
<path d="M179.50,453.90 L181.74,454.23 L183.98,454.56 L186.21,454.89 L188.45,455.22 L190.69,455.56 L192.93,455.89 L195.17,456.23 L197.40,456.57 L199.64,456.90 L201.88,457.24 L204.12,457.58 L206.35,457.92 L208.59,458.27 L210.83,458.61 L213.07,458.95 L215.31,459.30 L217.54,459.65 L219.78,460.00 L222.02,460.35 L224.26,460.70 L226.50,461.05 L228.73,461.41 L230.97,461.76 L233.21,462.12 L235.45,462.48 L237.68,462.84 L239.92,463.20 L242.16,463.57 L244.40,463.93 L246.64,464.30 L248.87,464.67 L251.11,465.04 L253.35,465.41 L255.59,465.78 L257.83,466.16 L260.06,466.54 L262.30,466.92 L264.54,467.30 L266.78,467.69 L269.02,468.07 L271.25,468.46 L273.49,468.85 L275.73,469.24 L277.97,469.64 L280.20,470.03 L282.44,470.43 L284.68,470.83 L286.92,471.24 L289.16,471.64 L291.39,472.05 L293.63,472.46 L295.87,472.88 L298.11,473.29 L300.35,473.71 L302.58,474.13 L304.82,474.56 L307.06,474.99 L309.30,475.42 L311.54,475.85 L313.77,476.29 L316.01,476.73 L318.25,477.17 L320.49,477.61 L322.72,478.06 L324.96,478.52 L327.20,478.97 L329.44,479.43 L331.68,479.89 L333.91,480.36 L336.15,480.83 L338.39,481.30 L340.63,481.78 L342.87,482.26 L345.10,482.75 L347.34,483.24 L349.58,483.74 L351.82,484.23 L354.05,484.74 L356.29,485.25 L358.53,485.76 L360.77,486.28 L363.01,486.80 L365.24,487.33 L367.48,487.86 L369.72,488.40 L371.96,488.94 L374.20,489.49 L376.43,490.04 L378.67,490.60 L380.91,491.17 L383.15,491.74 L385.39,492.32 L387.62,492.91 L389.86,493.50 L392.10,494.10 L394.34,494.71 L396.57,495.32 L398.81,495.94 L401.05,496.57 L403.29,497.21 L405.53,497.86 L407.76,498.51 L410.00,499.17 L412.24,499.85 L414.48,500.53 L416.72,501.22 L418.95,501.92 L421.19,502.63 L423.43,503.36 L425.67,504.09 L427.90,504.84 L430.14,505.60 L432.38,506.37 L434.62,507.15 L436.86,507.95 L439.09,508.76 L441.33,509.59 L443.57,510.43 L445.81,511.29 L448.05,512.16 L450.28,513.06 L452.52,513.97 L454.76,514.89 L457.00,515.84 L459.24,516.81 L461.47,517.81 L463.71,518.82 L465.95,519.86 L468.19,520.93 L470.42,522.02 L472.66,523.14 L474.90,524.30 L477.14,525.48 L479.38,526.70 L481.61,527.95 L483.85,529.25 L486.09,530.59 L488.33,531.97 L490.57,533.40 L492.80,534.88 L495.04,536.41 L497.28,538.01 L499.52,539.67 L501.76,541.41 L503.99,543.22 L506.23,545.12 L508.47,547.11 L510.71,549.22 L512.94,551.43 L515.27,553.88 L517.44,556.32 L519.48,558.75 L521.40,561.18 L523.19,563.61 L524.87,566.03 L526.44,568.45 L527.92,570.87 L529.30,573.28 L530.60,575.69 L531.82,578.09 L532.96,580.50 L534.02,582.90 L535.02,585.30 L535.96,587.69 L536.84,590.09 L537.67,592.48 L538.44,594.87 L539.16,597.26 L539.84,599.65 L540.48,602.04 L541.08,604.42 L541.63,606.81 L542.16,609.19 L542.65,611.57 L543.11,613.95 L543.54,616.33 L543.95,618.71 L544.32,621.09 L544.68,623.47 L545.01,625.84 L545.33,628.22 L545.62,630.59 L545.89,632.97 L546.15,633.50" fill="none" stroke="#000" stroke-width="7.6" stroke-linejoin="round" stroke-linecap="square"/>
<line x1="178.10" x2="961.15" y1="438.8" y2="438.8" stroke="#3d7b19" stroke-opacity="0.5" stroke-width="7.6"/>
<line x1="254.90" x2="254.90" y1="438.8" y2="633.5" stroke="#d62728" stroke-opacity="0.8" stroke-width="3.8"/>
<circle cx="254.90" cy="438.8" r="5.0" fill="#000"/>
</g>
<path d="M989.9,36.0 Q994.2,38.9 989.9,42.0 Z" fill="#7a7a7a"/>
<g stroke="#000" stroke-width="2.0" fill="none" stroke-linecap="butt">
<rect x="138.9" y="5.6" width="860.2" height="627.9"/>
<line x1="138.9" x2="999.1" y1="319.5" y2="319.5"/>
<line x1="179.50" x2="179.50" y1="5.6" y2="13.3"/>
<line x1="179.50" x2="179.50" y1="310.7" y2="328.3"/>
<line x1="179.50" x2="179.50" y1="624.7" y2="633.5"/>
<line x1="335.55" x2="335.55" y1="5.6" y2="13.3"/>
<line x1="335.55" x2="335.55" y1="310.7" y2="328.3"/>
<line x1="335.55" x2="335.55" y1="624.7" y2="633.5"/>
<line x1="491.60" x2="491.60" y1="5.6" y2="13.3"/>
<line x1="491.60" x2="491.60" y1="310.7" y2="328.3"/>
<line x1="491.60" x2="491.60" y1="624.7" y2="633.5"/>
<line x1="647.65" x2="647.65" y1="5.6" y2="13.3"/>
<line x1="647.65" x2="647.65" y1="310.7" y2="328.3"/>
<line x1="647.65" x2="647.65" y1="624.7" y2="633.5"/>
<line x1="803.70" x2="803.70" y1="5.6" y2="13.3"/>
<line x1="803.70" x2="803.70" y1="310.7" y2="328.3"/>
<line x1="803.70" x2="803.70" y1="624.7" y2="633.5"/>
<line x1="959.75" x2="959.75" y1="5.6" y2="13.3"/>
<line x1="959.75" x2="959.75" y1="310.7" y2="328.3"/>
<line x1="959.75" x2="959.75" y1="624.7" y2="633.5"/>
<line x1="130.1" x2="138.9" y1="287.30" y2="287.30"/>
<line x1="130.1" x2="138.9" y1="180.70" y2="180.70"/>
<line x1="130.1" x2="138.9" y1="74.10" y2="74.10"/>
<line x1="133.6" x2="138.9" y1="319.39" y2="319.39"/>
<line x1="133.6" x2="138.9" y1="310.95" y2="310.95"/>
<line x1="133.6" x2="138.9" y1="303.81" y2="303.81"/>
<line x1="133.6" x2="138.9" y1="297.63" y2="297.63"/>
<line x1="133.6" x2="138.9" y1="292.18" y2="292.18"/>
<line x1="133.6" x2="138.9" y1="255.21" y2="255.21"/>
<line x1="133.6" x2="138.9" y1="236.44" y2="236.44"/>
<line x1="133.6" x2="138.9" y1="223.12" y2="223.12"/>
<line x1="133.6" x2="138.9" y1="212.79" y2="212.79"/>
<line x1="133.6" x2="138.9" y1="204.35" y2="204.35"/>
<line x1="133.6" x2="138.9" y1="197.21" y2="197.21"/>
<line x1="133.6" x2="138.9" y1="191.03" y2="191.03"/>
<line x1="133.6" x2="138.9" y1="185.58" y2="185.58"/>
<line x1="133.6" x2="138.9" y1="148.61" y2="148.61"/>
<line x1="133.6" x2="138.9" y1="129.84" y2="129.84"/>
<line x1="133.6" x2="138.9" y1="116.52" y2="116.52"/>
<line x1="133.6" x2="138.9" y1="106.19" y2="106.19"/>
<line x1="133.6" x2="138.9" y1="97.75" y2="97.75"/>
<line x1="133.6" x2="138.9" y1="90.61" y2="90.61"/>
<line x1="133.6" x2="138.9" y1="84.43" y2="84.43"/>
<line x1="133.6" x2="138.9" y1="78.98" y2="78.98"/>
<line x1="133.6" x2="138.9" y1="42.01" y2="42.01"/>
<line x1="133.6" x2="138.9" y1="23.24" y2="23.24"/>
<line x1="133.6" x2="138.9" y1="9.92" y2="9.92"/>
<line x1="130.1" x2="138.9" y1="633.49" y2="633.49"/>
<line x1="130.1" x2="138.9" y1="591.42" y2="591.42"/>
<line x1="130.1" x2="138.9" y1="549.35" y2="549.35"/>
<line x1="130.1" x2="138.9" y1="507.28" y2="507.28"/>
<line x1="130.1" x2="138.9" y1="465.21" y2="465.21"/>
<line x1="130.1" x2="138.9" y1="423.14" y2="423.14"/>
<line x1="130.1" x2="138.9" y1="381.07" y2="381.07"/>
<line x1="130.1" x2="138.9" y1="339.00" y2="339.00"/>
</g>
<g font-family="DejaVu Sans, Liberation Sans, sans-serif" fill="#000" stroke="#000" stroke-width="0.3" stroke-linejoin="round">
<text x="179.50" y="660.9" font-size="25.0" text-anchor="middle">0.0</text>
<text x="335.55" y="660.9" font-size="25.0" text-anchor="middle">0.5</text>
<text x="491.60" y="660.9" font-size="25.0" text-anchor="middle">1.0</text>
<text x="647.65" y="660.9" font-size="25.0" text-anchor="middle">1.5</text>
<text x="803.70" y="660.9" font-size="25.0" text-anchor="middle">2.0</text>
<text x="959.75" y="660.9" font-size="25.0" text-anchor="middle">2.5</text>
<text x="108.87" y="74.20" font-size="17.50">3</text>
<text x="108.57" y="83.30" font-size="25.0" text-anchor="end">10</text>
<text x="71.84" y="189.00" font-size="25.00" xml:space="preserve">100</text>
<text x="89.15" y="295.60" font-size="25.00" xml:space="preserve">10</text>
<text x="108.45" y="339.10" font-size="17.50">4</text>
<text x="108.15" y="348.20" font-size="25.0" text-anchor="end">10</text>
<text x="108.87" y="381.17" font-size="17.50">3</text>
<text x="108.57" y="390.27" font-size="25.0" text-anchor="end">10</text>
<text x="71.94" y="431.44" font-size="25.00" xml:space="preserve">100</text>
<text x="89.35" y="473.51" font-size="25.00" xml:space="preserve">10</text>
<text x="104.10" y="515.58" font-size="25.00" xml:space="preserve">1</text>
<text x="81.45" y="557.65" font-size="25.00" xml:space="preserve">0.1</text>
<text x="63.94" y="599.72" font-size="25.00" xml:space="preserve">0.01</text>
<text x="93.70" y="633.59" font-size="17.50">−3</text>
<text x="93.40" y="642.69" font-size="25.0" text-anchor="end">10</text>
<text x="364.0" y="702.8" font-size="35.0" xml:space="preserve">Host galaxy redshift  z<tspan font-size="24.50" dy="6.2">h</tspan></text>
<g transform="translate(54.0,287.1) rotate(-90)"><text x="0" y="0" font-size="33.0" xml:space="preserve">DM<tspan font-size="23.10" dy="5.2">h</tspan><tspan dy="-5.2">  (pc</tspan><tspan dx="-1.8"> cm</tspan><tspan font-size="23.10" dy="-13.0" dx="-0.5">−3</tspan><tspan dy="13.0">)</tspan></text>
<polyline points="6.1,-28.8 32.5,-34.9 58.9,-28.8" fill="none" stroke="#000" stroke-width="1.2"/></g>
<g transform="translate(39.9,605.5) rotate(-90)"><text x="0" y="0" font-size="33.0" xml:space="preserve">τ<tspan font-size="23.10" dy="8.6">h</tspan></text>
<text x="18.2" y="-15.7" font-size="23.10" xml:space="preserve">(obs, 1 GHz)</text>
<text x="182.6" y="0" font-size="32.3" xml:space="preserve">(ms)</text>
<polyline points="2.4,-21.9 12.3,-26.5 20.5,-21.9" fill="none" stroke="#000" stroke-width="1.2"/></g>
<rect x="192" y="346" width="57" height="12.2" fill="#9ccdcd" stroke="none"/>
<text x="260.79" y="358.50" font-size="22.50" xml:space="preserve">FG variance</text>
<text transform="translate(259.16,338.60) scale(1,0.832)" x="0" y="6.61" font-size="21.09" stroke="none">~</text>
<rect x="434.1" y="346" width="57" height="12.2" fill="#cfe5e5" stroke="none"/>
<text x="502.74" y="359.80" font-size="22.50" xml:space="preserve">Cosmic variance</text>
<line x1="730" x2="779.8" y1="352.2" y2="352.2" stroke="#d62728" stroke-opacity="0.8" stroke-width="5.2"/>
<text x="795.03" y="360.30" font-size="22.50" xml:space="preserve">z</text>
<line x1="848" x2="900.4" y1="352.2" y2="352.2" stroke="#3d7b19" stroke-opacity="0.5" stroke-width="7.7"/>
<text x="914.30" y="360.30" font-size="22.50" xml:space="preserve">τ</text>
<text x="928.05" y="364.30" font-size="15.75" xml:space="preserve">s</text>
<text x="606.92" y="388.30" font-size="17.52" xml:space="preserve">Cloudlet model</text>
<text x="742.53" y="388.30" font-size="17.70" xml:space="preserve">:</text>
<text x="763.58" y="388.30" font-size="17.70" xml:space="preserve">(</text>
<text x="770.36" y="388.30" font-size="17.70" xml:space="preserve">F</text>
<text x="780.54" y="391.10" font-size="12.39" xml:space="preserve">1</text>
<text x="788.43" y="388.30" font-size="17.70" xml:space="preserve">,</text>
<text x="797.66" y="388.30" font-size="17.70" xml:space="preserve">F</text>
<text x="807.49" y="391.10" font-size="12.39" xml:space="preserve">2</text>
<text x="815.88" y="388.30" font-size="17.70" xml:space="preserve">)</text>
<text x="825.77" y="388.30" font-size="17.70" xml:space="preserve">×</text>
<text x="843.71" y="388.30" font-size="17.70" xml:space="preserve">G</text>
<text x="860.32" y="388.30" font-size="17.70" xml:space="preserve">=</text>
<text x="879.23" y="388.30" font-size="17.70" xml:space="preserve">0.01</text>
<text x="917.23" y="388.30" font-size="17.70" xml:space="preserve">,</text>
<text x="926.76" y="388.30" font-size="17.70" xml:space="preserve">10</text>
<text transform="translate(770.66,372.20) scale(1,1.053)" x="0" y="3.66" font-size="11.66" stroke="none">~</text>
<text transform="translate(797.96,372.20) scale(1,1.053)" x="0" y="3.66" font-size="11.66" stroke="none">~</text>
<text x="269.79" y="598.60" font-size="22.50" xml:space="preserve">FG</text>
<text x="304.62" y="598.60" font-size="22.50" xml:space="preserve">=</text>
<text x="328.33" y="598.60" font-size="22.50" xml:space="preserve">1.4</text>
<text transform="translate(270.97,579.10) scale(1,1.144)" x="0" y="4.81" font-size="15.34" stroke="none">~</text>
</g>
</svg>
</body></html>
